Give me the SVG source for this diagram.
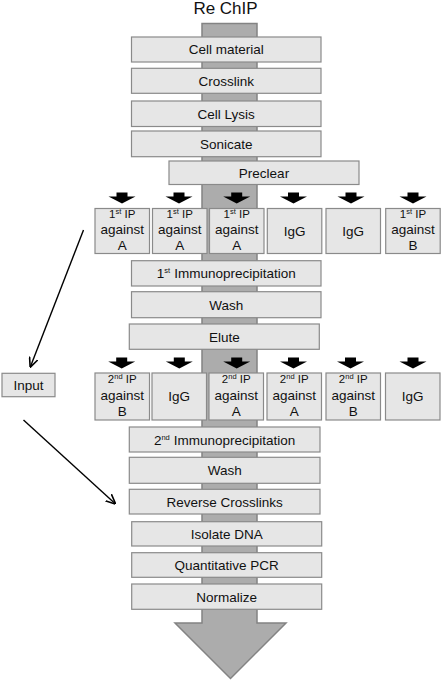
<svg xmlns="http://www.w3.org/2000/svg" width="441" height="680" viewBox="0 0 441 680">
<defs>
<style>
text{font-family:"Liberation Sans",Arial,sans-serif;fill:#111;text-anchor:middle}
.t{font-size:13.5px}
.s{font-size:11.5px}
.sup{font-size:7.5px}
.box{fill:#e6e6e6;stroke:#8a8a8a;stroke-width:1.2}
.bar{fill:#acacac;stroke:#838383;stroke-width:1.5}
.conn{stroke:#000;stroke-width:1.4;fill:none}
</style>
<path id="dn" d="M-5.5,0 H5.5 V4 H13.5 L0,11 L-13.5,4 H-5.5 Z" fill="#000"/>
<marker id="ah" viewBox="0 0 10 10" refX="9" refY="5" markerWidth="10" markerHeight="10" orient="auto" markerUnits="userSpaceOnUse">
<path d="M0,0.5 L10,5 L0,9.5" fill="none" stroke="#000" stroke-width="1.6"/>
</marker>
</defs>
<rect width="441" height="680" fill="#fff"/>
<text x="225.5" y="14" style="font-size:17px">Re ChIP</text>
<g id="flow-arrow">
<polygon class="bar" points="202,23.5 257,23.5 257,623 286,623 230.5,678.5 175,623 202,623"/>
</g>
<g id="cell-material"><rect class="box" x="131.5" y="37" width="189.5" height="25"/><text class="t" x="226.25" y="54.4">Cell material</text></g>
<g id="crosslink"><rect class="box" x="131.5" y="68.3" width="189.5" height="25"/><text class="t" x="226.25" y="85.7">Crosslink</text></g>
<g id="cell-lysis"><rect class="box" x="131.5" y="101" width="189.5" height="25.5"/><text class="t" x="226.25" y="118.6">Cell Lysis</text></g>
<g id="sonicate"><rect class="box" x="131.5" y="131" width="189.5" height="25.7"/><text class="t" x="226.25" y="148.7">Sonicate</text></g>
<g id="preclear"><rect class="box" x="169" y="161" width="190" height="23.5"/><text class="t" x="264" y="177.6">Preclear</text></g>
<g id="arrows-1">
<use href="#dn" x="122" y="192.5"/><use href="#dn" x="179" y="192.5"/><use href="#dn" x="236.7" y="192.5"/>
<use href="#dn" x="293.5" y="192.5"/><use href="#dn" x="351" y="192.5"/><use href="#dn" x="413" y="192.5"/>
</g>
<g id="ip1-a-1"><rect class="box" x="95" y="208.5" width="54.5" height="45"/><text class="s" x="122.25" y="217.5">1<tspan class="sup" dy="-3.5">st</tspan><tspan dy="3.5"> IP</tspan></text><text class="t" x="122.25" y="234">against</text><text class="t" x="122.25" y="250">A</text></g>
<g id="ip1-a-2"><rect class="box" x="152.5" y="208.5" width="54.5" height="45"/><text class="s" x="179.75" y="217.5">1<tspan class="sup" dy="-3.5">st</tspan><tspan dy="3.5"> IP</tspan></text><text class="t" x="179.75" y="234">against</text><text class="t" x="179.75" y="250">A</text></g>
<g id="ip1-a-3"><rect class="box" x="209.5" y="208.5" width="54.5" height="45"/><text class="s" x="236.75" y="217.5">1<tspan class="sup" dy="-3.5">st</tspan><tspan dy="3.5"> IP</tspan></text><text class="t" x="236.75" y="234">against</text><text class="t" x="236.75" y="250">A</text></g>
<g id="igg-1a"><rect class="box" x="267.3" y="208.5" width="54.5" height="45"/><text class="t" x="294.55" y="235.7">IgG</text></g>
<g id="igg-1b"><rect class="box" x="326" y="208.5" width="54.5" height="45"/><text class="t" x="353.25" y="235.7">IgG</text></g>
<g id="ip1-b"><rect class="box" x="385.7" y="208.5" width="54.5" height="45"/><text class="s" x="412.95" y="217.5">1<tspan class="sup" dy="-3.5">st</tspan><tspan dy="3.5"> IP</tspan></text><text class="t" x="412.95" y="234">against</text><text class="t" x="412.95" y="250">B</text></g>
<g id="immuno-1"><rect class="box" x="131.5" y="260.7" width="189.5" height="25.3"/><text class="t" x="226.25" y="278.2">1<tspan class="sup" dy="-5">st</tspan><tspan dy="5" dx="4">Immunoprecipitation</tspan></text></g>
<g id="wash-1"><rect class="box" x="131.5" y="291.7" width="189.5" height="26"/><text class="t" x="226.25" y="309.5">Wash</text></g>
<g id="elute"><rect class="box" x="129.3" y="324" width="190" height="25.3"/><text class="t" x="224.3" y="341.5">Elute</text></g>
<g id="arrows-2">
<use href="#dn" x="121.7" y="357.5"/><use href="#dn" x="179.3" y="357.5"/><use href="#dn" x="236.7" y="357.5"/>
<use href="#dn" x="293.5" y="357.5"/><use href="#dn" x="350.5" y="357.5"/><use href="#dn" x="413" y="357.5"/>
</g>
<g id="ip2-b-1"><rect class="box" x="95" y="373" width="54.5" height="47"/><text class="s" x="122.25" y="382.5">2<tspan class="sup" dy="-3.5">nd</tspan><tspan dy="3.5"> IP</tspan></text><text class="t" x="122.25" y="399.5">against</text><text class="t" x="122.25" y="416">B</text></g>
<g id="igg-2a"><rect class="box" x="152" y="373" width="54.5" height="47"/><text class="t" x="179.25" y="401.2">IgG</text></g>
<g id="ip2-a-1"><rect class="box" x="209" y="373" width="54.5" height="47"/><text class="s" x="236.25" y="382.5">2<tspan class="sup" dy="-3.5">nd</tspan><tspan dy="3.5"> IP</tspan></text><text class="t" x="236.25" y="399.5">against</text><text class="t" x="236.25" y="416">A</text></g>
<g id="ip2-a-2"><rect class="box" x="267" y="373" width="54.5" height="47"/><text class="s" x="294.25" y="382.5">2<tspan class="sup" dy="-3.5">nd</tspan><tspan dy="3.5"> IP</tspan></text><text class="t" x="294.25" y="399.5">against</text><text class="t" x="294.25" y="416">A</text></g>
<g id="ip2-b-2"><rect class="box" x="326" y="373" width="54.5" height="47"/><text class="s" x="353.25" y="382.5">2<tspan class="sup" dy="-3.5">nd</tspan><tspan dy="3.5"> IP</tspan></text><text class="t" x="353.25" y="399.5">against</text><text class="t" x="353.25" y="416">B</text></g>
<g id="igg-2b"><rect class="box" x="385.5" y="373" width="54.5" height="47"/><text class="t" x="412.75" y="401.2">IgG</text></g>
<g id="immuno-2"><rect class="box" x="129.3" y="427" width="190.7" height="25"/><text class="t" x="224.65" y="444.5">2<tspan class="sup" dy="-5">nd</tspan><tspan dy="5" dx="4">Immunoprecipitation</tspan></text></g>
<g id="wash-2"><rect class="box" x="129.3" y="457.3" width="190.7" height="26"/><text class="t" x="224.65" y="475.2">Wash</text></g>
<g id="reverse-crosslinks"><rect class="box" x="129.3" y="489.3" width="190.7" height="24.7"/><text class="t" x="224.65" y="506.5">Reverse Crosslinks</text></g>
<g id="isolate-dna"><rect class="box" x="131.7" y="521.7" width="190" height="24.3"/><text class="t" x="226.7" y="538.7">Isolate DNA</text></g>
<g id="qpcr"><rect class="box" x="131.7" y="552.7" width="190" height="24.6"/><text class="t" x="226.7" y="569.8">Quantitative PCR</text></g>
<g id="normalize"><rect class="box" x="131.7" y="584" width="190" height="25.3"/><text class="t" x="226.7" y="601.5">Normalize</text></g>
<g id="input"><rect class="box" x="2" y="373.3" width="53" height="23.4"/><text class="t" x="28.5" y="389.8">Input</text></g>
<g id="connectors">
<line class="conn" x1="83.5" y1="230" x2="30.5" y2="366.5" marker-end="url(#ah)"/>
<line class="conn" x1="23.5" y1="420" x2="115" y2="503.5" marker-end="url(#ah)"/>
</g>
</svg>
